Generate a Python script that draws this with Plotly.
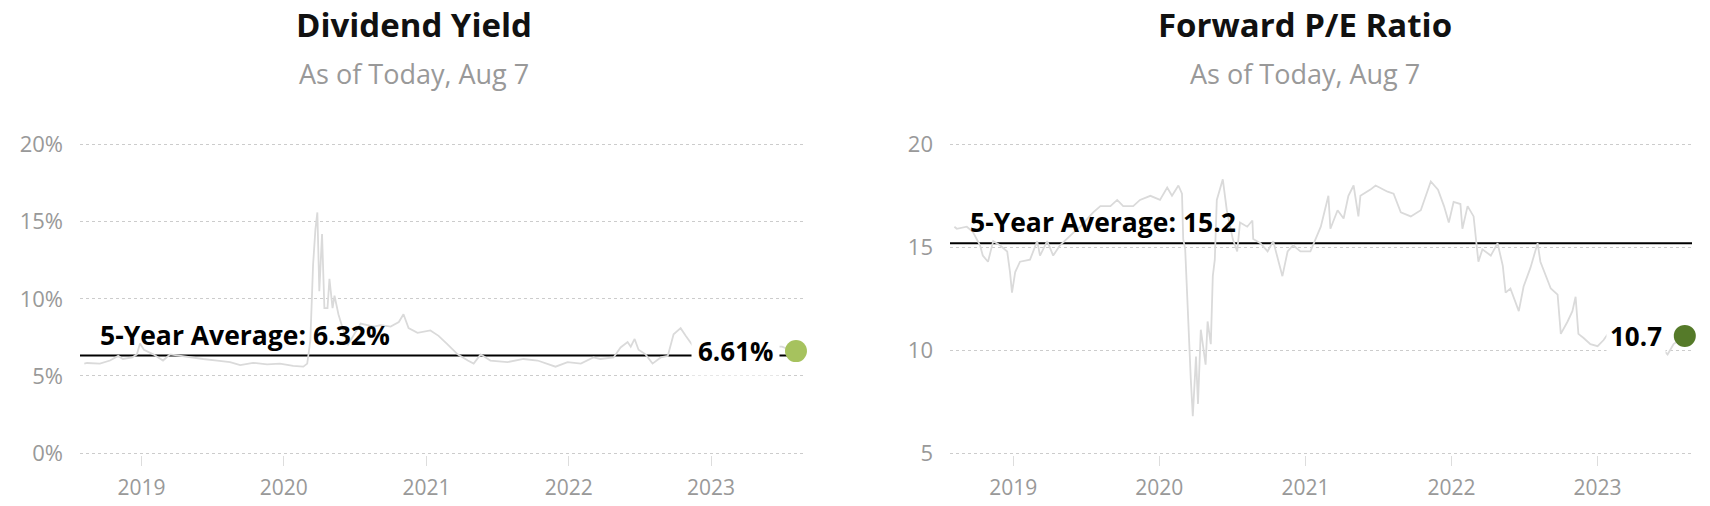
import plotly.graph_objects as go

# ---------------- DATA ----------------
dy_dates = ["2018-08-07","2018-08-14","2018-09-16","2018-10-12","2018-11-02","2018-11-14","2018-12-08","2018-12-20","2018-12-28",
            "2019-01-07","2019-01-31","2019-02-25","2019-03-15","2019-04-10","2019-05-06","2019-06-08","2019-07-14","2019-08-16",
            "2019-09-11","2019-10-14","2019-11-19","2019-12-22","2020-01-25","2020-02-20","2020-03-01","2020-03-09","2020-03-16",
            "2020-03-22","2020-03-27","2020-04-01","2020-04-08","2020-04-14","2020-04-22","2020-04-27","2020-05-05","2020-05-10",
            "2020-05-20","2020-06-13","2020-07-16","2020-08-19","2020-09-05","2020-10-01","2020-10-22","2020-11-03","2020-11-16",
            "2020-12-09","2021-01-11","2021-02-01","2021-02-24","2021-03-22","2021-04-17","2021-05-02","2021-05-20","2021-06-14",
            "2021-07-28","2021-09-07","2021-10-13","2021-11-08","2021-11-28","2021-12-29","2022-02-01","2022-03-05","2022-03-23",
            "2022-04-26","2022-05-14","2022-06-01","2022-06-09","2022-06-19","2022-06-29","2022-07-17","2022-08-04","2022-08-25",
            "2022-09-12","2022-09-27","2022-10-15","2022-10-28","2022-11-14","2022-12-15","2023-01-20","2023-02-25","2023-03-20",
            "2023-04-20","2023-05-20","2023-07-02","2023-07-22","2023-08-07"]
dy_values = [5.8,5.84,5.8,6.0,6.3,6.1,6.2,6.4,7.1,
             6.7,6.4,6.0,6.4,6.3,6.2,6.1,6.0,5.9,
             5.7,5.85,5.75,5.8,5.65,5.6,5.8,7.3,12.2,
             14.5,15.6,10.5,14.2,9.4,9.4,11.3,9.4,10.2,
             9.0,7.0,8.4,8.2,8.3,8.2,8.5,9.0,8.1,
             7.8,7.95,7.6,7.05,6.4,6.0,5.8,6.4,6.0,
             5.9,6.1,6.0,5.8,5.6,5.9,5.8,6.2,6.1,
             6.2,6.85,7.2,6.9,7.4,6.7,6.4,5.8,6.2,
             6.3,7.7,8.1,7.6,7.0,7.1,6.8,7.0,7.6,
             7.2,6.9,6.9,6.7,6.61]
dy_average = 6.32
dy_latest = 6.61

pe_dates = ["2018-08-07","2018-08-13","2018-09-07","2018-09-22","2018-10-10","2018-10-17","2018-10-30","2018-11-12","2018-11-29",
            "2018-12-17","2018-12-24","2018-12-29","2019-01-06","2019-01-18","2019-02-12","2019-03-02","2019-03-09","2019-03-27",
            "2019-04-11","2019-04-28","2019-05-31","2019-06-18","2019-07-20","2019-08-07","2019-09-01","2019-09-18","2019-10-03",
            "2019-10-28","2019-11-14","2019-12-10","2020-01-03","2020-01-21","2020-02-02","2020-02-18","2020-02-27","2020-03-01",
            "2020-03-06","2020-03-13","2020-03-20","2020-03-25","2020-04-02","2020-04-07","2020-04-14","2020-04-19","2020-04-26",
            "2020-05-01","2020-05-09","2020-05-14","2020-05-19","2020-05-24","2020-06-08","2020-06-18","2020-07-03","2020-07-14",
            "2020-07-21","2020-08-08","2020-08-21","2020-08-23","2020-09-10","2020-09-28","2020-10-12","2020-11-04","2020-11-17",
            "2020-12-01","2020-12-19","2021-01-13","2021-01-26","2021-02-08","2021-02-27","2021-03-04","2021-03-22","2021-04-06",
            "2021-04-18","2021-05-01","2021-05-13","2021-05-18","2021-06-12","2021-06-25","2021-07-25","2021-08-09","2021-08-27",
            "2021-09-21","2021-10-16","2021-11-10","2021-11-28","2021-12-13","2021-12-25","2022-01-06","2022-01-23","2022-01-28",
            "2022-02-10","2022-02-25","2022-03-04","2022-03-09","2022-03-19","2022-04-09","2022-04-26","2022-05-09","2022-05-16",
            "2022-05-28","2022-06-18","2022-06-30","2022-07-17","2022-08-04","2022-08-11","2022-09-06","2022-09-23","2022-10-01",
            "2022-10-18","2022-10-30","2022-11-07","2022-11-14","2022-11-27","2022-12-14","2023-01-01","2023-01-16","2023-02-03",
            "2023-02-27","2023-03-17","2023-04-18","2023-05-26","2023-06-25","2023-07-10","2023-08-07"]
pe_values = [16.0,15.9,16.0,15.75,15.1,14.6,14.3,15.3,15.1,
             14.8,13.8,12.8,13.8,14.3,14.4,15.3,14.6,15.3,
             14.6,15.1,15.7,16.0,16.7,17.0,17.0,17.3,17.0,
             17.0,17.3,17.5,17.3,17.9,17.5,18.0,17.6,15.4,
             14.9,11.5,8.6,6.8,9.7,7.4,11.0,10.3,9.3,
             11.4,10.3,13.6,14.4,17.3,18.3,16.8,15.4,14.8,
             16.2,16.0,16.3,15.4,15.2,14.8,15.3,13.6,14.8,
             15.1,14.8,14.8,15.4,16.0,17.5,15.9,16.8,16.4,
             17.5,18.0,16.5,17.5,17.8,18.0,17.7,17.6,16.7,
             16.5,16.8,18.2,17.8,17.0,16.2,17.2,17.1,15.9,
             17.0,16.5,15.2,14.3,14.9,14.6,15.2,14.1,12.8,
             13.0,11.9,13.1,14.0,15.2,14.3,13.0,12.7,10.8,
             11.4,11.9,12.6,10.8,10.6,10.3,10.2,10.5,11.0,
             10.6,9.8,10.0,10.4,9.8,10.3,10.7]
pe_average = 15.2
pe_latest = 10.7

year_ticks = ["2019-01-01", "2020-01-01", "2021-01-01", "2022-01-01", "2023-01-01"]
year_labels = ["2019", "2020", "2021", "2022", "2023"]
dy_ticks = [0, 5, 10, 15, 20]
dy_tick_labels = ["0%", "5%", "10%", "15%", "20%"]
pe_ticks = [5, 10, 15, 20]
pe_tick_labels = ["5", "10", "15", "20"]

titles = ["Dividend Yield", "Forward P/E Ratio"]
subtitle = "As of Today, Aug 7"

# ---------------- STYLE / LAYOUT ----------------
W, H = 1710, 506
FONT = "Open Sans"
GRAY_TEXT = "#999999"
LINE_GRAY = "#dadada"
LEFT_DOT = "#a6c25e"
RIGHT_DOT = "#557a29"
X_RANGE = ["2018-07-27", "2023-08-25"]
Y_DOMAIN = [1 - 465.3 / H, 1 - 135.2 / H]

fig = go.Figure()

fig.add_trace(go.Scatter(x=dy_dates, y=dy_values, mode="lines", xaxis="x", yaxis="y",
                         line=dict(color=LINE_GRAY, width=1.8), hoverinfo="skip", showlegend=False))
fig.add_trace(go.Scatter(x=[dy_dates[-1]], y=[dy_latest], mode="markers", xaxis="x", yaxis="y",
                         marker=dict(size=22, color=LEFT_DOT), hoverinfo="skip", showlegend=False, cliponaxis=False))
fig.add_trace(go.Scatter(x=pe_dates, y=pe_values, mode="lines", xaxis="x2", yaxis="y2",
                         line=dict(color=LINE_GRAY, width=1.8), hoverinfo="skip", showlegend=False))
fig.add_trace(go.Scatter(x=[pe_dates[-1]], y=[pe_latest], mode="markers", xaxis="x2", yaxis="y2",
                         marker=dict(size=22, color=RIGHT_DOT), hoverinfo="skip", showlegend=False, cliponaxis=False))

xtickfont = dict(family=FONT, size=21, color=GRAY_TEXT)
ytickfont = dict(family=FONT, size=22, color=GRAY_TEXT)

def xaxis_cfg(domain, anchor):
    return dict(domain=domain, anchor=anchor, type="date", range=X_RANGE,
                tickvals=year_ticks, ticktext=year_labels, ticks="outside", ticklen=10,
                tickwidth=1, tickcolor="#dddddd", showgrid=False, showline=False, zeroline=False,
                ticklabelstandoff=3, tickfont=xtickfont, fixedrange=True)

def yaxis_cfg(rng, tv, tt, anchor):
    return dict(domain=Y_DOMAIN, anchor=anchor, range=rng, tickvals=tv, ticktext=tt,
                showgrid=True, gridcolor="#cccccc", gridwidth=1, griddash="dot",
                zeroline=False, showline=False, ticks="", ticklabelstandoff=16,
                tickfont=ytickfont, fixedrange=True)

annotations = []
shapes = []
for xref, yref, avg, latest, last_date, avg_text, latest_text, pad in [
    ("x", "y", dy_average, dy_latest, dy_dates[-1], f"5-Year Average: {dy_average:.2f}%", f"{dy_latest:.2f}%", 6),
    ("x2", "y2", pe_average, pe_latest, pe_dates[-1], f"5-Year Average: {pe_average:.1f}", f"{pe_latest:.1f}", 3),
]:
    shapes.append(dict(type="line", xref=f"{xref} domain", x0=0, x1=1, yref=yref, y0=avg, y1=avg,
                       line=dict(color="#000000", width=2), layer="below"))
    annotations.append(dict(xref=f"{xref} domain", x=0, xanchor="left", xshift=18, yref=yref, y=avg,
                            yanchor="bottom", yshift=1, text=avg_text, showarrow=False,
                            font=dict(family=FONT, size=26.5, color="#000000", weight=700)))
    annotations.append(dict(xref=xref, x=last_date, xanchor="right", xshift=-(22 - pad), yref=yref, y=latest,
                            yanchor="middle", text=latest_text, showarrow=False, bgcolor="#ffffff", borderpad=pad,
                            font=dict(family=FONT, size=26, color="#000000", weight=700)))

for cx, title in zip([414, 1305], titles):
    annotations.append(dict(xref="paper", yref="paper", x=cx / W, y=1 - 11 / H, xanchor="center", yanchor="middle",
                            text=title, showarrow=False,
                            font=dict(family=FONT, size=33, color="#111111", weight=700)))
    annotations.append(dict(xref="paper", yref="paper", x=cx / W, y=1 - 63 / H, xanchor="center", yanchor="middle",
                            text=subtitle, showarrow=False,
                            font=dict(family=FONT, size=27, color=GRAY_TEXT)))

fig.update_layout(
    width=W, height=H, autosize=False,
    margin=dict(l=0, r=0, t=0, b=0, pad=0),
    paper_bgcolor="#ffffff", plot_bgcolor="#ffffff",
    font=dict(family=FONT),
    xaxis=xaxis_cfg([80 / W, 803 / W], "y"),
    yaxis=yaxis_cfg([-0.15, 20.15], dy_ticks, dy_tick_labels, "x"),
    xaxis2=xaxis_cfg([950 / W, 1692 / W], "y2"),
    yaxis2=yaxis_cfg([4.9, 20.1], pe_ticks, pe_tick_labels, "x2"),
    shapes=shapes, annotations=annotations, showlegend=False,
)

fig.write_html("out.html", config={"displayModeBar": False, "staticPlot": True},
               post_script="document.body.style.margin='0';document.body.style.overflow='hidden';")
